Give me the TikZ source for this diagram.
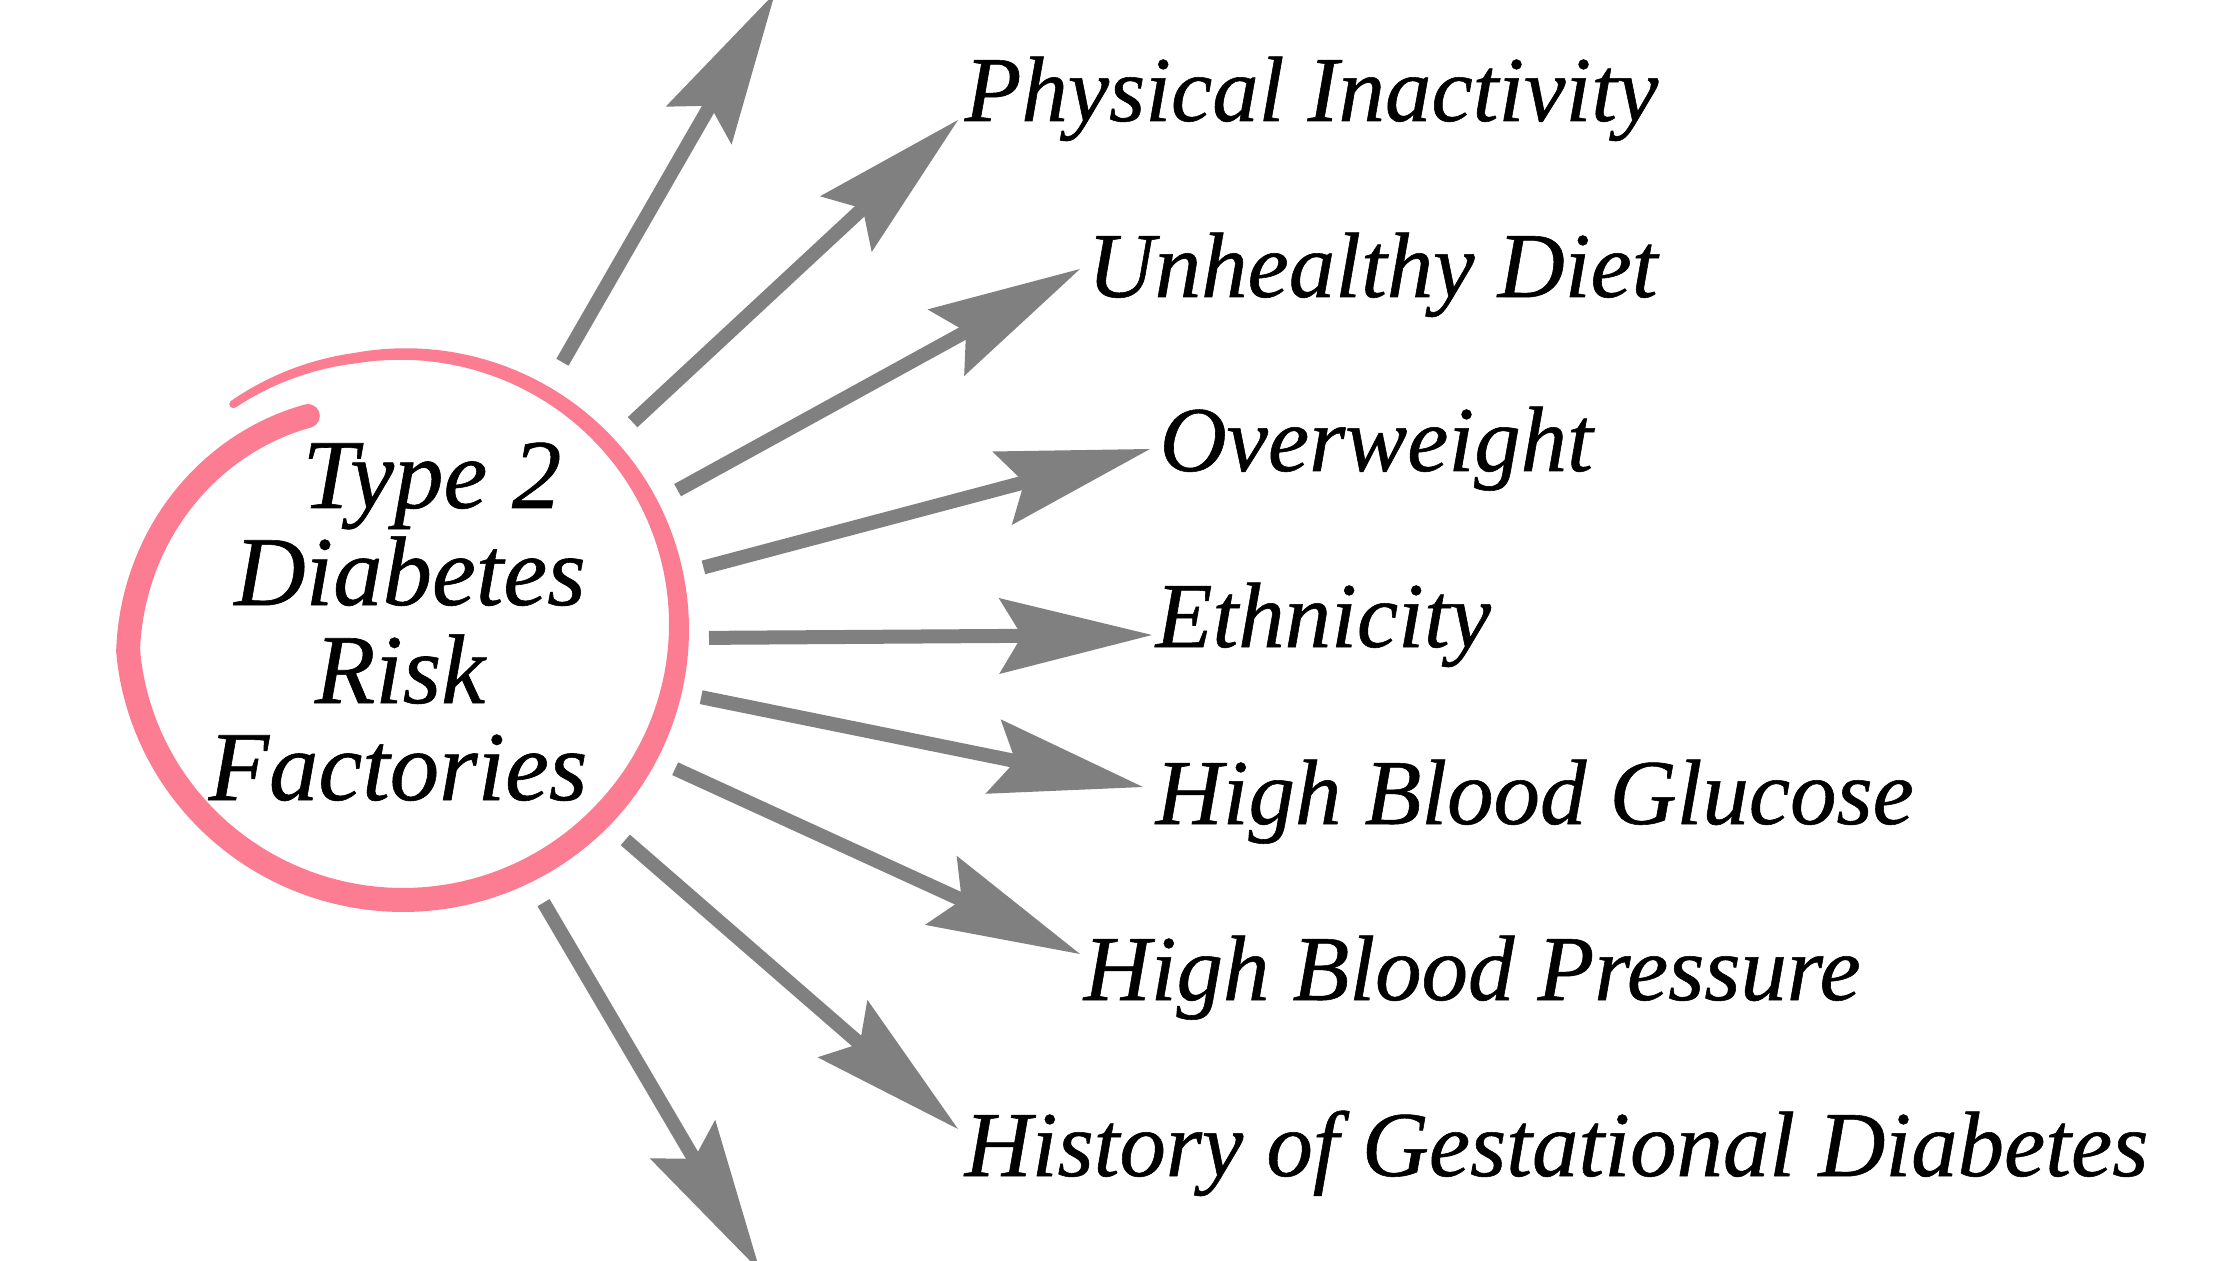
\documentclass[tikz,border=0pt]{standalone}
\usepackage{fontspec}
\setmainfont{Liberation Serif}
\newfontface\heavyit{Liberation Serif Italic}[FakeBold=0.6]
\usetikzlibrary{arrows.meta}
\definecolor{rosy}{RGB}{252,124,146}
\definecolor{shaftgray}{RGB}{128,128,128}
\tikzset{
  declare function={bw(\t)=4+8*min(1,2.2*(127-\t)/373);
                    br(\t)=-42*max(0,(-175-\t)/71)+6*max(0,(\t-100)/27);},
  title/.style={anchor=base,inner sep=0pt,font=\heavyit\fontsize{28.1}{28.1}\selectfont},
  factor/.style={anchor=base west,inner sep=0pt,font=\heavyit\fontsize{26.4}{26.4}\selectfont},
  ray/.style={shaftgray,line width=0.14cm,
    -{Stealth[length=1.53cm,width=0.76cm,inset=0.23cm,line width=0pt]}}
}
\begin{document}
\begin{tikzpicture}[x=0.01cm,y=0.01cm]
  \clip (0,0) rectangle (2240,1260);
  \fill[white] (0,0) rectangle (2240,1260);
  % brush ring
  \fill[rosy] plot[domain=127:-246,samples=180,variable=\t]
      ({403+(276+br(\t)+bw(\t))*cos(\t)},{633+(273+br(\t)+bw(\t))*sin(\t)})
    -- plot[domain=-246:127,samples=180,variable=\t]
      ({403+(276+br(\t)-bw(\t))*cos(\t)},{633+(273+br(\t)-bw(\t))*sin(\t)}) -- cycle;
  \fill[rosy] ({403+(276+br(127))*cos(127)},{633+(273+br(127))*sin(127)}) circle (4);
  \fill[rosy] ({403+(276+br(-246))*cos(-246)},{633+(273+br(-246))*sin(-246)}) circle (12);
  \node[circle,minimum size=6.24cm,inner sep=0pt,outer sep=0pt] (ring) at (397,633) {};
  \node[title] (type) at (432,752) {Type 2};
  \node[title] (diab) at (410,655) {Diabetes};
  \node[title] (risk) at (400,557) {Risk};
  \node[title] (fact) at (398,460) {Factories};
  % labels
  \node[factor] (inact) at (964,1139) {Physical Inactivity};
  \node[factor] (diet) at (1087,963) {Unhealthy Diet};
  \node[factor] (weight) at (1159,789) {Overweight};
  \node[factor] (ethn) at (1155,613) {Ethnicity};
  \node[factor] (gluc) at (1155,436) {High Blood Glucose};
  \node[factor] (press) at (1083,260) {High Blood Pressure};
  \node[factor] (gest) at (964,84) {History of Gestational Diabetes};
  \coordinate (up) at (775,1267);
  \coordinate (down) at (760,-11);
  % arrows
  \draw[ray] (ring.58) -- (up);
  \draw[ray] (ring.41) -- ([shift={(-6,1)}]inact.base west);
  \draw[ray] (ring.26) -- ([shift={(-7,28)}]diet.base west);
  \draw[ray] (ring.11.6) -- ([shift={(-9,22)}]weight.base west);
  \draw[ray] (ring.-2) -- ([shift={(-3,12)}]ethn.base west);
  \draw[ray] (ring.-13.4) -- ([shift={(-12,37)}]gluc.base west);
  \draw[ray] (ring.-27.7) -- ([shift={(-3,46)}]press.base west);
  \draw[ray] (ring.-43.2) -- ([shift={(-6,47)}]gest.base west);
  \draw[ray] (ring.-62.5) -- (down);
\end{tikzpicture}
\end{document}
